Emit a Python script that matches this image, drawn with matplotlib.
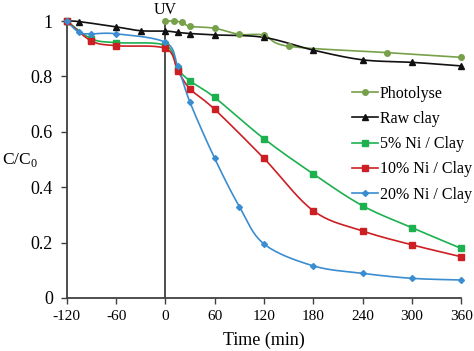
import numpy as np
import matplotlib
matplotlib.use("Agg")
import matplotlib.pyplot as plt
from matplotlib.lines import Line2D

plt.rcParams["font.family"] = ["Liberation Serif", "DejaVu Serif"]
plt.rcParams["mathtext.fontset"] = "custom"
plt.rcParams["mathtext.rm"] = "Liberation Serif"

# data (time in min, C/C0)
photo_t = [0, 10, 20, 30, 60, 90, 120, 150, 270, 360]
photo_c = [1.0, 1.0, 0.995, 0.981, 0.974, 0.952, 0.949, 0.909, 0.886, 0.869]

raw_t = [-120, -105, -60, -30, 0, 15, 30, 60, 120, 180, 240, 300, 360]
raw_c = [1.0, 0.998, 0.979, 0.965, 0.964, 0.959, 0.955, 0.950, 0.941, 0.895, 0.860, 0.851, 0.838]

ni5_t = [-120, -90, -60, 0, 15, 30, 60, 120, 180, 240, 300, 360]
ni5_c = [1.0, 0.936, 0.922, 0.912, 0.828, 0.784, 0.724, 0.575, 0.448, 0.333, 0.254, 0.179]

ni10_t = [-120, -90, -60, 0, 15, 30, 60, 120, 180, 240, 300, 360]
ni10_c = [1.0, 0.928, 0.911, 0.901, 0.820, 0.755, 0.681, 0.504, 0.315, 0.242, 0.192, 0.149]

ni20_t = [-120, -105, -90, -60, 0, 15, 30, 60, 90, 120, 180, 240, 300, 360]
ni20_c = [1.0, 0.959, 0.954, 0.954, 0.923, 0.837, 0.706, 0.504, 0.330, 0.195, 0.116, 0.089, 0.071, 0.065]

labels = ["Photolyse", "Raw clay", "5% Ni / Clay", "10% Ni / Clay", "20% Ni / Clay"]
xticks = [-120, -60, 0, 60, 120, 180, 240, 300, 360]
yticks = [0, 0.2, 0.4, 0.6, 0.8, 1]
ytick_labels = ["0", "0.2", "0.4", "0.6", "0.8", "1"]


def smooth(x, y, n=20):
    # Excel-like smoothed line: Catmull-Rom segments as cubic Bezier
    p = np.column_stack([x, y]).astype(float)
    pts = [p[0]]
    for i in range(len(p) - 1):
        p0 = p[i - 1] if i > 0 else p[i]
        p1, p2 = p[i], p[i + 1]
        p3 = p[i + 2] if i + 2 < len(p) else p[i + 1]
        c1 = p1 + (p2 - p0) / 6
        c2 = p2 - (p3 - p1) / 6
        t = np.linspace(0, 1, n)[1:, None]
        seg = ((1 - t) ** 3) * p1 + 3 * ((1 - t) ** 2) * t * c1 + 3 * (1 - t) * t ** 2 * c2 + t ** 3 * p2
        pts.extend(seg)
    pts = np.array(pts)
    return pts[:, 0], pts[:, 1]


fig = plt.figure(figsize=(4.74, 3.51), dpi=100)
ax = fig.add_axes([0.141, 0.151, 0.832, 0.789])

series = [
    (photo_t, photo_c, "#77A04A", "o", 4.0),
    (raw_t, raw_c, "#111111", "^", 4.0),
    (ni5_t, ni5_c, "#1DB04F", "s", 4.2),
    (ni10_t, ni10_c, "#CC1F24", "s", 4.2),
    (ni20_t, ni20_c, "#3A8DD0", "D", 3.0),
]

handles = []
for (t, c, color, m, ms), lab in zip(series, labels):
    xs, ys = smooth(t, c)
    ax.plot(xs, ys, color=color, lw=1.2, clip_on=False, zorder=3)
    ax.plot(t, c, ls="none", marker=m, ms=ms, color=color, mec=color, clip_on=False, zorder=4)
    handles.append(Line2D([], [], color=color, lw=1.2, marker=m, ms=ms, mec=color))

ax.axvline(0, color="#404040", lw=1.3, zorder=2)
ax.text(0, 1.012, "UV", ha="center", va="bottom", fontsize=11.5, transform=ax.get_xaxis_transform())

ax.set_xlim(-120, 360)
ax.set_ylim(0, 1)
ax.set_xticks(xticks)
ax.set_xticklabels([str(v) for v in xticks], fontsize=11)
ax.set_yticks(yticks)
ax.set_yticklabels(ytick_labels, fontsize=13)
ax.tick_params(axis="both", direction="out", length=4, width=1.0, color="#404040")
ax.tick_params(axis="x", pad=5)
ax.tick_params(axis="y", pad=6)
for s in ["top", "right"]:
    ax.spines[s].set_visible(False)
for s in ["left", "bottom"]:
    ax.spines[s].set_color("#404040")
    ax.spines[s].set_linewidth(1.3)

ax.set_xlabel("Time (min)", fontsize=13, va="center")
ax.xaxis.set_label_coords(0.5, -0.152)
fig.text(0.043, 0.545, r"C/C$_0$", fontsize=12.5, ha="center", va="center")

ax.legend(handles, labels, loc="upper left", bbox_to_anchor=(0.723, 0.767), frameon=False,
          fontsize=11.5, handlelength=1.65, handletextpad=0.08, labelspacing=0.58,
          borderpad=0, borderaxespad=0)

fig.savefig("out.png", dpi=100)
